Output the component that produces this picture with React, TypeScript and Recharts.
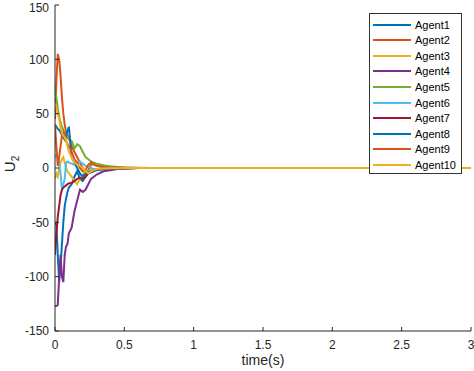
import React from 'react';
import { LineChart, Line, XAxis, YAxis, Legend } from 'recharts';

// time samples (s)
const times = [0, 0.01, 0.02, 0.03, 0.04, 0.05, 0.06, 0.07, 0.08, 0.09, 0.1, 0.12, 0.14, 0.16, 0.18, 0.2, 0.22, 0.24, 0.26, 0.28, 0.3, 0.35, 0.4, 0.45, 0.5, 0.6, 0.7, 0.8, 1.0, 2.0, 3.0];

const agent1 = [-50, -52, -80, -105, -90, -70, -50, -35, -28, -22, -18, -15, -8, -3, -10, -12, -8, -5, -4, -3, -2, -1, -0.5, -0.3, -0.2, 0, 0, 0, 0, 0, 0];
const agent2 = [45, 80, 105, 100, 85, 65, 50, 40, 33, 30, 28, 20, 15, 10, 5, 0, -5, -2, 3, 4, 2, 1, 0.5, 0.3, 0.2, 0, 0, 0, 0, 0, 0];
const agent3 = [-10, -5, -8, 0, 5, 8, 10, 5, 0, -3, -5, -8, -12, -15, -10, -6, -4, -3, -2, -2, -1.5, -1, -0.5, -0.3, -0.2, 0, 0, 0, 0, 0, 0];
const agent4 = [-127, -127, -126, -100, -80, -100, -105, -80, -72, -70, -60, -55, -40, -30, -20, -22, -20, -15, -10, -8, -6, -3, -2, -1, -0.5, -0.1, 0, 0, 0, 0, 0];
const agent5 = [72, 65, 55, 48, 42, 38, 35, 32, 30, 28, 26, 25, 18, 22, 20, 15, 10, 8, 6, 5, 4, 2.5, 1.5, 1, 0.5, 0.2, 0, 0, 0, 0, 0];
const agent6 = [10, 12, 10, 5, -5, -20, -15, -10, 5, 6, 5, 4, 3, 5, 6, 4, 2, 1, 0, -1, -1, -0.5, -0.3, -0.2, -0.1, 0, 0, 0, 0, 0, 0];
const agent7 = [-80, -60, -45, -35, -25, -20, -18, -17, -16, -15, -14, -14, -12, -10, -9, -10, -8, -5, -3, -2, -1.5, -1, -0.5, -0.3, -0.2, 0, 0, 0, 0, 0, 0];
const agent8 = [40, 38, 36, 35, 33, 30, 28, 26, 30, 34, 38, 10, 5, 0, -5, -8, -5, -4, -3, -2, -1.5, -1, -0.5, -0.3, -0.2, 0, 0, 0, 0, 0, 0];
const agent9 = [40, 20, 2, 10, 20, 30, 33, 30, 25, 22, 20, 15, 8, 5, 0, -3, -2, 3, 5, 3, 2, 1, 0.5, 0.3, 0.2, 0, 0, 0, 0, 0, 0];
const agent10 = [60, 55, 50, 45, 38, 32, 30, 28, 25, 20, 15, 10, 5, 3, 2, 0, -3, -5, -3, -2, -1, -0.5, -0.3, -0.2, -0.1, 0, 0, 0, 0, 0, 0];

const agentNames = ['Agent1', 'Agent2', 'Agent3', 'Agent4', 'Agent5', 'Agent6', 'Agent7', 'Agent8', 'Agent9', 'Agent10'];
const agentValues = [agent1, agent2, agent3, agent4, agent5, agent6, agent7, agent8, agent9, agent10];

const xTicks = [0, 0.5, 1, 1.5, 2, 2.5, 3];
const yTicks = [-150, -100, -50, 0, 50, 100, 150];

// MATLAB default color order
const COLORS = ['#0072BD', '#D95319', '#EDB120', '#7E2F8E', '#77AC30', '#4DBEEE', '#A2142F', '#0072BD', '#D95319', '#EDB120'];

const data = times.map((t, i) => {
  const row: Record<string, number> = { t };
  agentValues.forEach((vals, k) => {
    row[agentNames[k]] = vals[i];
  });
  return row;
});

const FONT = '"Liberation Sans", Arial, Helvetica, sans-serif';
const AXIS = '#262626';

const YLabel = (props: any) => {
  const vb = props.viewBox || { x: 0, y: 5, width: 55, height: 326 };
  const cx = vb.x + 15;
  const cy = vb.y + vb.height / 2 - 4;
  return (
    <text x={cx} y={cy} transform={`rotate(-90 ${cx} ${cy})`} textAnchor="middle" fill={AXIS} fontSize={15} fontFamily={FONT}>
      U<tspan fontSize={10} dy={4}>2</tspan>
    </text>
  );
};

const renderLegend = () => (
  <div style={{ border: '1px solid #333', background: '#fff', padding: '3px 0 1px 0', fontFamily: FONT, fontSize: 11, color: '#000' }}>
    {agentNames.map((name, i) => (
      <div key={name} style={{ display: 'flex', alignItems: 'center', height: 15.55 }}>
        <div style={{ width: 38, height: 2, background: COLORS[i], marginLeft: 3, marginRight: 4 }} />
        <span>{name}</span>
      </div>
    ))}
  </div>
);

export default function App() {
  return (
    <div style={{ position: 'absolute', left: 0, top: 0, background: '#fff' }}>
      <LineChart width={474} height={371} data={data} margin={{ top: 5, right: 3, bottom: 0, left: 0 }}>
        <XAxis
          dataKey="t"
          type="number"
          domain={[0, 3]}
          ticks={xTicks}
          allowDataOverflow
          height={40}
          tickSize={-4}
          tickMargin={13}
          stroke={AXIS}
          tick={{ fill: AXIS, fontSize: 12, fontFamily: FONT }}
          label={{ value: 'time(s)', position: 'insideBottom', offset: 6, fill: AXIS, fontSize: 14, fontFamily: FONT }}
        />
        <XAxis xAxisId="top" orientation="top" dataKey="t" type="number" domain={[0, 3]} ticks={xTicks} height={0} tickSize={-4} tick={false} stroke={AXIS} />
        <YAxis
          domain={[-150, 150]}
          ticks={yTicks}
          width={55}
          tickSize={-4}
          tickMargin={10}
          stroke={AXIS}
          allowDataOverflow
          tick={{ fill: AXIS, fontSize: 12, fontFamily: FONT }}
          label={<YLabel />}
        />
        <YAxis yAxisId="right" orientation="right" domain={[-150, 150]} ticks={yTicks} width={0} tickSize={-4} tick={false} stroke={AXIS} />
        <Legend
          layout="vertical"
          align="center"
          verticalAlign="middle"
          content={renderLegend}
          wrapperStyle={{ position: 'absolute', left: 369, top: 13, width: 93 }}
        />
        {agentNames.map((name, i) => (
          <Line key={name} dataKey={name} stroke={COLORS[i]} strokeWidth={2} dot={false} isAnimationActive={false} type="linear" />
        ))}
      </LineChart>
    </div>
  );
}
